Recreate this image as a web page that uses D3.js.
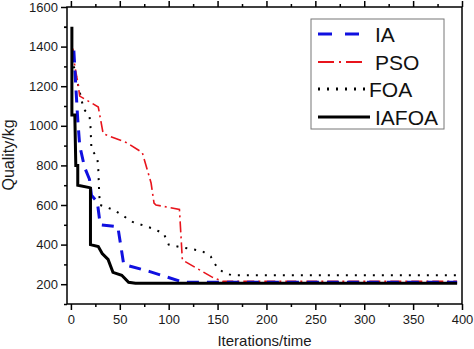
<!DOCTYPE html>
<html><head><meta charset="utf-8">
<script src="https://cdn.jsdelivr.net/npm/d3@7"></script>
<style>body{margin:0;background:#fff}svg{display:block;font-family:"Liberation Sans",Arial,sans-serif}</style>
</head><body><svg id="c" width="474" height="349"></svg>
<script>
const seriesNames = ["IA", "PSO", "FOA", "IAFOA"];
const IA = [[3,1380],[5,1200],[7,1030],[9,900],[14,790],[19,730],[21,650],[27,615],[30,500],[48,490],[54,300],[80,265],[115,210],[395,210]];
const PSO = [[2,1390],[4,1300],[7,1220],[9,1150],[28,1095],[33,960],[57,915],[73,865],[82,711],[85,610],[87,600],[111,578],[114,322],[144,237],[155,215],[395,215]];
const FOA = [[3,1300],[10,1150],[13,1085],[19,1050],[20,1000],[21,880],[27,840],[28,780],[29,650],[30,600],[44,575],[63,515],[85,479],[95,455],[100,400],[111,388],[134,368],[143,340],[150,280],[158,255],[165,245],[395,245]];
const IAFOA = [[1,1500],[1,1055],[4,1055],[5,800],[7,800],[7,700],[19,688],[20,686],[20,400],[28,390],[32,355],[38,325],[43,260],[52,245],[59,210],[66,205],[395,205]];
const xTicks = [0,50,100,150,200,250,300,350,400];
const yTicks = [200,400,600,800,1000,1200,1400,1600];

const svg = d3.select("#c");
const L=67, R=462, T=7, B=304;
const x = d3.scaleLinear().domain([-4,400]).range([L,R]);
const y = d3.scaleLinear().domain([100,1600]).range([B,T]);

const styles = {
  IA:{color:"#1010e0", w:3, dash:"12,8"},
  PSO:{color:"#e8141c", w:1.6, dash:"11,4,2,4"},
  FOA:{color:"#000", w:2, dash:"2,7"},
  IAFOA:{color:"#000", w:3, dash:null}
};
const data = {IA, PSO, FOA, IAFOA};
const line = d3.line().x(d=>x(d[0])).y(d=>y(d[1]));
const plot = svg.append("g");
["FOA","PSO","IA","IAFOA"].forEach(n=>{
  const s=styles[n];
  plot.append("path").attr("d",line(data[n])).attr("fill","none")
    .attr("stroke",s.color).attr("stroke-width",s.w)
    .attr("stroke-dasharray",s.dash).attr("stroke-linejoin","miter");
});

// frame
svg.append("rect").attr("x",L).attr("y",T).attr("width",R-L).attr("height",B-T)
  .attr("fill","none").attr("stroke","#000").attr("stroke-width",1.5);

const minorX = d3.range(25,400,50);
const minorY = d3.range(100,1600,200).concat([1500]).filter(v=>v%200!==0);

const xb = svg.append("g").attr("transform",`translate(0,${B})`)
  .call(d3.axisBottom(x).tickValues(xTicks).tickSize(6).tickPadding(5).tickFormat(d3.format("d")));
const xbm = svg.append("g").attr("transform",`translate(0,${B})`)
  .call(d3.axisBottom(x).tickValues(minorX).tickSize(3).tickFormat(""));
const xt = svg.append("g").attr("transform",`translate(0,${T})`)
  .call(d3.axisTop(x).tickValues(xTicks).tickSize(6).tickFormat(""));
const xtm = svg.append("g").attr("transform",`translate(0,${T})`)
  .call(d3.axisTop(x).tickValues(minorX).tickSize(3).tickFormat(""));
const yl = svg.append("g").attr("transform",`translate(${L},0)`)
  .call(d3.axisLeft(y).tickValues(yTicks).tickSize(6).tickPadding(3).tickFormat(d3.format("d")));
const ylm = svg.append("g").attr("transform",`translate(${L},0)`)
  .call(d3.axisLeft(y).tickValues(minorY).tickSize(3).tickFormat(""));
[xb,xbm,xt,xtm,yl,ylm].forEach(g=>{
  g.select(".domain").remove();
  g.selectAll("line").attr("stroke","#000").attr("stroke-width",1.5);
  g.selectAll("text").attr("fill","#1a1a1a").attr("font-size",13).attr("font-family","Liberation Sans, Arial, sans-serif");
});

svg.append("text").attr("x",(L+R)/2).attr("y",346).attr("text-anchor","middle")
  .attr("font-size",15).attr("fill","#1a1a1a").text("Iterations/time");
svg.append("text").attr("transform","translate(14,155) rotate(-90)").attr("text-anchor","middle")
  .attr("font-size",16).attr("fill","#1a1a1a").text("Quality/kg");

// legend
const lg = svg.append("g");
lg.append("rect").attr("x",311).attr("y",19).attr("width",133).attr("height",110)
  .attr("fill","#fff").attr("stroke","#777").attr("stroke-width",1);
const lgY = [34,62,89,117];
const lgTX = [375,375,369,375];
const lgX2 = [359,365,369,370];
seriesNames.forEach((n,i)=>{
  const s=styles[n];
  let dash=s.dash;
  if(n==="IA") dash="14,13";
  if(n==="PSO") dash="16,5,2,5";
  if(n==="FOA") dash="2,7";
  lg.append("line").attr("x1",318).attr("x2",lgX2[i]).attr("y1",lgY[i]).attr("y2",lgY[i])
    .attr("stroke",s.color).attr("stroke-width",n==="PSO"?2:3).attr("stroke-dasharray",dash);
  lg.append("text").attr("x",lgTX[i]).attr("y",lgY[i]+8).attr("font-size",21).attr("fill","#111").text(n);
});
</script></body></html>
